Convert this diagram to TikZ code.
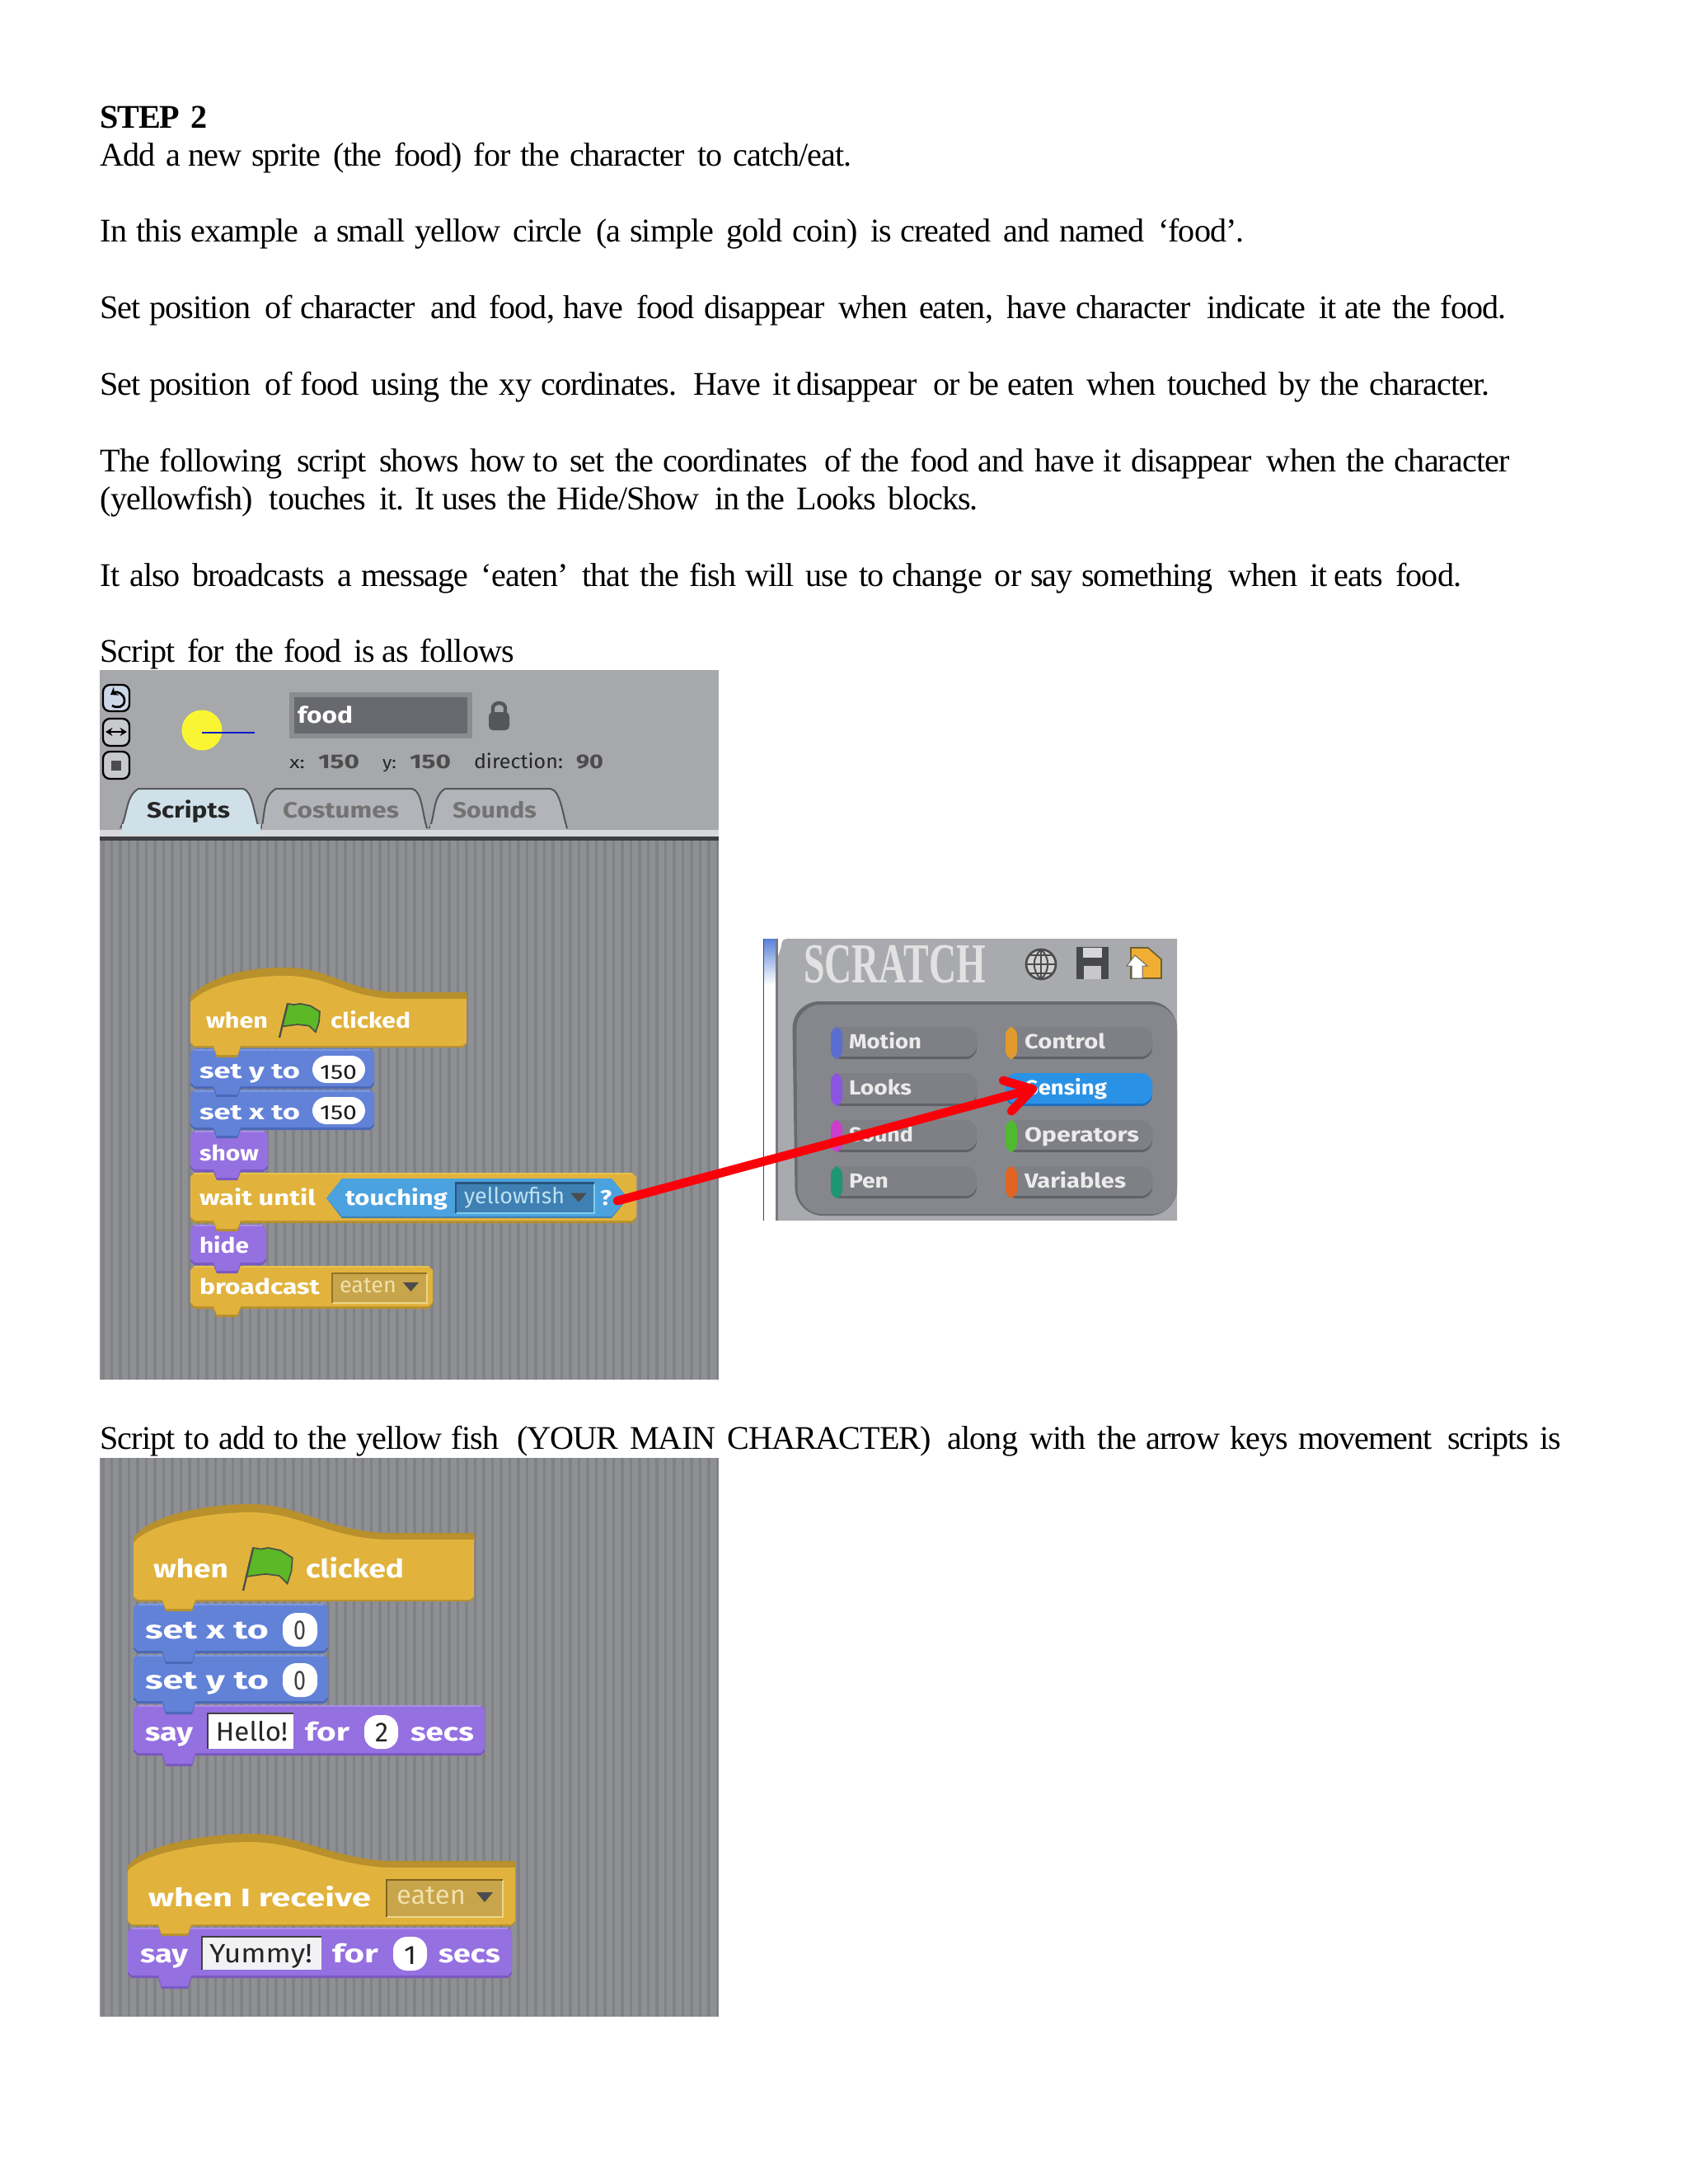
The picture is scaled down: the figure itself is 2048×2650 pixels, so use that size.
\documentclass[tikz,border=0pt]{standalone}
\usepackage{graphicx}
\usepackage{fontspec}
\usetikzlibrary{arrows.meta}
\setmainfont{Liberation Serif}
\newfontfamily\bodyfont{Liberation Serif}[LetterSpace=-2.4]
\newfontfamily\bodybold{Liberation Serif Bold}[LetterSpace=-3]
\newfontfamily\blockbold{Fira Sans Bold}
\newfontfamily\blockreg{Fira Sans}
\newfontfamily\logofont{Liberation Serif Bold}
\definecolor{panelgray}{HTML}{A6A8AB}
\definecolor{stripebase}{HTML}{8F9094}
\definecolor{stripedark}{HTML}{818286}
\definecolor{ctrl}{HTML}{E1B33D}
\definecolor{ctrldark}{HTML}{B8902C}
\definecolor{ctrllight}{HTML}{E9C34A}
\definecolor{motion}{HTML}{6282D8}
\definecolor{motiondark}{HTML}{4A68B8}
\definecolor{motionlight}{HTML}{7A98E4}
\definecolor{looks}{HTML}{9570E0}
\definecolor{looksdark}{HTML}{7A58C2}
\definecolor{lookslight}{HTML}{AB8CEA}
\definecolor{sense}{HTML}{4BA2DE}
\definecolor{sensedark}{HTML}{3D80B0}
\definecolor{menuctrl}{HTML}{C8A44A}
\definecolor{menulight}{HTML}{EAD68C}
\definecolor{btngray}{HTML}{7E8085}
\definecolor{btnedge}{HTML}{5F6166}
\definecolor{rulelight}{HTML}{D8D9DA}
\definecolor{ruledark}{HTML}{3E3F43}
\definecolor{tabline}{HTML}{55565A}
\definecolor{tabgray}{HTML}{B2B4BA}
\definecolor{tabblue}{HTML}{CFE0E9}
\definecolor{btnblue}{HTML}{CDD7E8}
\definecolor{btnlight}{HTML}{C8C9CC}
\definecolor{spritey}{HTML}{FAF532}
\definecolor{spriteb}{HTML}{0A1EC8}
\definecolor{boxedge}{HTML}{8A8C90}
\definecolor{boxin}{HTML}{68696E}
\definecolor{flaggreen}{HTML}{5CB826}
\definecolor{flagedge}{HTML}{4B5046}
\definecolor{menublue}{HTML}{3E80B4}
\definecolor{menuhi}{HTML}{82CDF0}
\definecolor{menulo}{HTML}{28557D}
\definecolor{yfc}{HTML}{BEE1F0}
\definecolor{eatc}{HTML}{F0E1AA}
\definecolor{yumbg}{HTML}{F2F2F5}
\definecolor{palblue}{HTML}{5A82D7}
\definecolor{paledge}{HTML}{324678}
\definecolor{palstrip}{HTML}{787A7E}
\definecolor{palbg}{HTML}{A8AAAD}
\definecolor{innerdark}{HTML}{686A6F}
\definecolor{innerbg}{HTML}{85878C}
\definecolor{logoc}{HTML}{E2E2E2}
\definecolor{globef}{HTML}{D2D2D4}
\definecolor{savef}{HTML}{46484C}
\definecolor{savew}{HTML}{D7D7D9}
\definecolor{savex}{HTML}{C8C8CA}
\definecolor{foldf}{HTML}{F0AF32}
\definecolor{folde}{HTML}{6E5F32}
\definecolor{cma}{HTML}{5A6ED2}
\definecolor{cmb}{HTML}{8C55E1}
\definecolor{cmc}{HTML}{CD3CCD}
\definecolor{cmd}{HTML}{1E9673}
\definecolor{cme}{HTML}{E19B2D}
\definecolor{cmg}{HTML}{50B932}
\definecolor{cmh}{HTML}{E16423}
\definecolor{sensbtn}{HTML}{2A92E6}
\definecolor{sensedge}{HTML}{1E6EBE}
\definecolor{arrowred}{HTML}{FA000A}
\tikzset{
  x=0.29883pt,y=-0.29883pt,
  txt/.style={anchor=base west,inner sep=0pt,outer sep=0pt},
  redarrow/.style={draw=arrowred,line width=3.2pt,line cap=round,
    -{Straight Barb[length=9.5pt,width=11.5pt,line width=3.2pt,round]}},
}
% a word of a body line, at its page x
\newcommand\wrd[2]{\pgfmathsetlengthmacro\wx{(#1-121)*0.29883pt}\rlap{\hspace*{\wx}#2 }\ignorespaces}
% a run of words stretched between two page x
\newcommand\wrun[3]{\pgfmathsetlengthmacro\wx{(#1-121)*0.29883pt}\pgfmathsetlengthmacro\wy{(#2-#1)*0.29883pt}\rlap{\hspace*{\wx}\makebox[\wy][s]{#3}}\ignorespaces}
% a line of body text: name, baseline, words
\newcommand\wline[3]{\node[txt] (#1) at (119.5,#2) {\fontsize{12pt}{14pt}\bodyfont\ignorespaces #3};}
% a text fitted to a width: name, x1, x2, baseline, size, colour, font, text
\newcommand\fitx[8]{\node[txt,text=#6] (#1) at (#2,#4) {\fontsize{#5pt}{#5pt}#7\sbox0{#8}\pgfmathsetmacro\ff{(#3-#2)*0.29883/\wd0}\scalebox{\ff}[1]{\usebox0}};}
% a stack block: x1,y1,x2,y2, notch x, notch w, notch h, colour stem
\newcommand\blk[8]{%
  \def\shp##1{(#1+5,#2) -- (#3-5,#2) -- (#3,#2+5) -- (#3,#4-5-##1) -- (#3-5,#4-##1) -- (#5+#6,#4-##1) -- (#5+#6-4,#4+#7-##1) -- (#5+4,#4+#7-##1) -- (#5,#4-##1) -- (#1+5,#4-##1) -- (#1,#4-5-##1) -- (#1,#2+5) -- cycle}%
  \fill[#8dark] \shp{0};
  \fill[#8] \shp{3};
  \draw[#8light,line width=0.6pt] (#1+5,#2+1) -- (#3-5,#2+1);
}
% a hat block: x1,x2,ytop,yright,xpeak,xend,ybottom,notch x,notch w
\newcommand\hatb[9]{%
  \fill[ctrldark] (#1,#4+6) .. controls (#1+20,#3+12) and (#5-50,#3) .. (#5,#3) .. controls (#5+60,#3) and (#6-70,#4) .. (#6,#4) -- (#2,#4) -- (#2+1,#4+7) -- (#2,#4+10) -- (#1,#4+12) -- cycle;
  \fill[ctrldark] (#1,#4+10) -- (#2,#4+10) -- (#2,#7-4) -- (#2-5,#7) -- (#8+#9,#7) -- (#8+#9-4,#7+12) -- (#8+4,#7+12) -- (#8,#7) -- (#1+5,#7) -- (#1,#7-5) -- cycle;
  \fill[ctrl] (#1,#4+12) .. controls (#1+20,#3+22) and (#5-50,#3+10) .. (#5,#3+10) .. controls (#5+60,#3+10) and (#6-70,#4+8) .. (#6,#4+8) -- (#2,#4+8) -- (#2,#7-6) -- (#2-5,#7-2) -- (#8+#9,#7-2) -- (#8+#9-4,#7+9) -- (#8+4,#7+9) -- (#8,#7-2) -- (#1+5,#7-2) -- (#1,#7-6) -- cycle;
}
% flag icon: x,y,w,h
\newcommand\flagi[4]{\begin{scope}[shift={(#1,#2)},xscale=#3,yscale=#4]
  \fill[fill=flaggreen,draw=flagedge,line width=0.5pt] (0.2,0.02) -- (0.35,0.05) -- (0.5,0.02) -- (0.75,0.08) -- (0.98,0.25) -- (0.96,0.55) -- (0.88,0.84) -- (0.72,0.66) -- (0.45,0.62) -- (0.3,0.64) -- (0.06,0.68) -- cycle;
  \draw[flagedge,line width=0.7pt] (0.2,0.02) -- (0,1);
\end{scope}}
% an oval number input: x1,x2,y1,y2
\newcommand\ovalin[4]{\fill[white,rounded corners=5pt] (#1,#3) rectangle (#2,#4);}
% a category button: name,x1,x2,y1,y2,stripe colour
\newcommand\catb[6]{%
  \fill[btnedge,rounded corners=4pt] (#2,#4+2) rectangle (#3,#5);
  \fill[btngray,rounded corners=4pt] (#2,#4) rectangle (#3,#5-3);
  \fill[#6,rounded corners=3pt] (#2,#4) -- (#2+14,#4) -- (#2+14,#5) -- (#2,#5) -- cycle;
}
\begin{document}
\begin{tikzpicture}
\useasboundingbox (0,0) rectangle (2048,2650);
\fill[white] (0,0) rectangle (2048,2650);
% body text
\node[txt] (step) at (119.5,155) {\fontsize{12pt}{14pt}\bodybold\wrd{121.4}{STEP}\wrd{231.7}{2}};
\wline{l1}{201}{\wrd{121.4}{Add} \wrd{201}{a} \wrd{228.6}{new} \wrd{305}{sprite} \wrd{404}{(the} \wrd{478}{food)} \wrd{574.6}{for} \wrd{631.5}{the} \wrd{691}{character} \wrd{846}{to} \wrd{889}{catch/eat.}}
\wline{l2}{293}{\wrd{121.4}{In} \wrd{165.5}{this} \wrd{231.7}{example} \wrd{380}{a} \wrd{408}{small} \wrd{503}{yellow} \wrd{622}{circle} \wrd{723}{(a} \wrd{764}{simple} \wrd{881}{gold} \wrd{961.6}{coin)} \wrd{1055.7}{is} \wrd{1091.8}{created} \wrd{1217}{and} \wrd{1285}{named} \wrd{1404.7}{‘food’.}}
\wline{l3}{386}{\wrd{121.4}{Set} \wrd{181.4}{position} \wrd{321.7}{of} \wrd{364.5}{character} \wrd{522.5}{and} \wrd{593}{food,} \wrd{683}{have} \wrd{771.8}{food} \wrd{854.4}{disappear} \wrd{1017}{when} \wrd{1114.8}{eaten,} \wrd{1221}{have} \wrd{1305.4}{character} \wrd{1463.8}{indicate} \wrd{1600}{it} \wrd{1631.5}{ate} \wrd{1689}{the} \wrd{1747.4}{food.}}
\wline{l4}{479}{\wrd{121.4}{Set} \wrd{181.4}{position} \wrd{321.7}{of} \wrd{364.5}{food} \wrd{450.3}{using} \wrd{545.8}{the} \wrd{605.8}{xy} \wrd{656}{cordinates.} \wrd{841}{Have} \wrd{937.7}{it} \wrd{966.5}{disappear} \wrd{1132}{or} \wrd{1175}{be} \wrd{1222.7}{eaten} \wrd{1318.6}{when} \wrd{1416}{touched} \wrd{1551}{by} \wrd{1601.6}{the} \wrd{1661}{character.}}
\wline{l5}{572}{\wrd{121.4}{The} \wrd{193.7}{following} \wrd{360}{script} \wrd{460}{shows} \wrd{570.3}{how} \wrd{646.8}{to} \wrd{691}{set} \wrd{746}{the} \wrd{804}{coordinates} \wrd{1000.2}{of} \wrd{1044}{the} \wrd{1104.5}{food} \wrd{1186.6}{and} \wrd{1255.5}{have} \wrd{1338.7}{it} \wrd{1372}{disappear} \wrd{1536.7}{when} \wrd{1633}{the} \wrd{1691.7}{character}}
\wline{l6}{618}{\wrd{121.4}{(yellowfish)} \wrd{326.6}{touches} \wrd{460}{it.} \wrd{503}{It} \wrd{536.6}{uses} \wrd{615.6}{the} \wrd{675.6}{Hide/Show} \wrd{867}{in} \wrd{905}{the} \wrd{966.5}{Looks} \wrd{1077.5}{blocks.}}
\wline{l7}{711}{\wrd{121.4}{It} \wrd{157}{also} \wrd{233}{broadcasts} \wrd{409}{a} \wrd{438}{message} \wrd{583.8}{‘eaten’} \wrd{706}{that} \wrd{776.7}{the} \wrd{836}{fish} \wrd{904}{will} \wrd{977}{use} \wrd{1042}{to} \wrd{1082.6}{change} \wrd{1206.6}{or} \wrd{1250}{say} \wrd{1312}{something} \wrd{1490}{when} \wrd{1589}{it} \wrd{1618}{eats} \wrd{1693}{food.}}
\wline{l8}{803}{\wrd{121.4}{Script} \wrd{227}{for} \wrd{285}{the} \wrd{344}{food} \wrd{429}{is} \wrd{463}{as} \wrd{509}{follows}}
\wline{l9}{1758}{\wrun{121.4}{605}{Script to add to the yellow fish} \wrd{627}{(YOUR} \wrd{764}{MAIN} \wrd{882}{CHARACTER)} \wrd{1149.6}{along} \wrd{1249}{with} \wrd{1331.6}{the} \wrd{1390}{arrow} \wrd{1492}{keys} \wrd{1575}{movement} \wrd{1756}{scripts} \wrd{1868.5}{is}}

% ---------- first panel
\fill[panelgray] (120.5,813) rectangle (872,1007);
\fill[rulelight] (120.5,1007) rectangle (872,1015);
\fill[ruledark] (120.5,1015) rectangle (872,1020);
\fill[stripebase] (120.5,1020) rectangle (872,1674);
\foreach \i in {0,...,71} {\fill[stripedark] ({123+\i*10.5},1020) rectangle ({126.5+\i*10.5},1674);}
% mini buttons
\draw[black,line width=0.7pt,fill=btnblue,rounded corners=2.5pt] (125,831) rectangle (157,863);
\draw[black,line width=0.7pt,fill=btnlight,rounded corners=2.5pt] (125,872) rectangle (157,905);
\draw[black,line width=0.7pt,fill=btnlight,rounded corners=2.5pt] (125,912) rectangle (157,945);
\draw[black,line width=0.8pt,{Stealth[length=2.5pt,width=3.5pt]}-] (134,843) .. controls (142,838) and (151,842) .. (151,850) .. controls (151,858) and (142,860) .. (136,856);
\draw[black,line width=0.8pt,{Stealth[length=2.5pt,width=3pt]}-{Stealth[length=2.5pt,width=3pt]}] (128,888) -- (154,888);
\fill[black!70] (135,923) rectangle (147,935);
% sprite
\fill[spritey] (245,886) circle[radius=24.5];
\draw[spriteb,line width=0.55pt] (245,889) -- (309,889);
% name box
\fill[boxedge] (351,840) rectangle (573,896);
\fill[boxin] (357,846) rectangle (567,890);
\fitx{foodname}{361}{428}{877}{8.2}{white}{\blockbold}{food}
% lock
\draw[tabline,line width=1.3pt] (598,866) -- (598,859) arc[start angle=180,end angle=360,x radius=7.5,y radius=6] -- (613,866);
\fill[tabline,rounded corners=1.5pt] (593,864) rectangle (618,886);
% coordinates
\fitx{xl}{351}{370}{932}{6.2}{black!85}{\blockreg}{x:}
\fitx{xv}{386}{436}{932}{7.2}{black!70}{\blockbold}{150}
\fitx{yl}{464}{481}{932}{6.2}{black!85}{\blockreg}{y:}
\fitx{yv}{497}{547}{932}{7.2}{black!70}{\blockbold}{150}
\fitx{dl}{575}{683}{932}{7.2}{black!85}{\blockreg}{direction:}
\fitx{dv}{699}{732}{932}{7.2}{black!70}{\blockbold}{90}
% tabs
\draw[tabline,line width=0.6pt,fill=tabgray] (317,1005) .. controls (322,990) and (318,966) .. (335,957) -- (500,957) .. controls (512,960) and (512,985) .. (518,1005);
\fill[tabgray] (318,1000) rectangle (516,1007);
\draw[tabline,line width=0.6pt,fill=tabgray] (521,1005) .. controls (528,990) and (525,966) .. (540,957) -- (668,957) .. controls (680,960) and (682,985) .. (688,1005);
\fill[tabgray] (522,1000) rectangle (686,1007);
\draw[tabline,line width=0.6pt,fill=tabblue] (146,1005) .. controls (155,990) and (152,966) .. (168,957) -- (295,957) .. controls (306,960) and (308,985) .. (314,1005);
\fill[tabblue] (148,1000) rectangle (316,1012);
\fitx{tabs}{178}{279}{992}{8}{black!85}{\blockbold}{Scripts}
\fitx{tabc}{343}{484}{992}{8}{black!55}{\blockbold}{Costumes}
\fitx{tabd}{549}{651}{992}{8}{black!55}{\blockbold}{Sounds}

% script 1 (bottom up so each bump lies on the next block)
\blk{231}{1536}{525}{1588}{259}{33}{10}{ctrl}
\fill[menuctrl] (403,1545) rectangle (518,1581);
\draw[menulight,line width=0.6pt] (403,1581) -- (518,1581) -- (518,1545);
\draw[ctrldark!80!black,line width=0.6pt] (403,1581) -- (403,1545) -- (518,1545);
\blk{231}{1486}{323}{1535}{259}{33}{10}{looks}
\blk{231}{1423}{772}{1484}{259}{33}{10}{ctrl}
\fill[sensedark] (396,1454) -- (415,1430) -- (742,1430) -- (762,1454) -- (742,1478) -- (415,1478) -- cycle;
\fill[sense] (396,1454) -- (415,1430) -- (742,1430) -- (762,1454) -- (742,1476) -- (415,1476) -- cycle;
\fill[menublue] (553,1435.5) rectangle (721,1472);
\draw[menuhi,line width=0.6pt] (553,1472) -- (721,1472) -- (721,1435.5);
\draw[menulo,line width=0.7pt] (553,1472) -- (553,1435.5) -- (721,1435.5);
\blk{231}{1372}{325}{1422}{259}{33}{10}{looks}
\blk{231}{1322.5}{454}{1371}{259}{33}{10}{motion}
\ovalin{379}{443}{1331}{1364}
\blk{231}{1272.5}{454}{1321}{259}{33}{10}{motion}
\ovalin{379}{443}{1281}{1314}
\hatb{231}{566}{1174}{1204}{345}{488}{1271}{259}{33}
\flagi{339}{1217}{50}{42}
\fitx{w1}{250}{325}{1247}{7.7}{white}{\blockbold}{when}
\fitx{c1}{401}{498}{1247}{7.7}{white}{\blockbold}{clicked}
\fitx{sy1}{242}{364}{1308}{7.7}{white}{\blockbold}{set y to}
\fitx{sy2}{388}{433}{1309}{7.4}{black!90}{\blockreg}{150}
\fitx{sx1}{242}{364}{1358}{7.7}{white}{\blockbold}{set x to}
\fitx{sx2}{388}{433}{1358}{7.4}{black!90}{\blockreg}{150}
\fitx{show}{242}{314}{1408}{7.7}{white}{\blockbold}{show}
\fitx{wu}{242}{383}{1462}{7.7}{white}{\blockbold}{wait until}
\fitx{tch}{419}{543}{1462}{7.7}{white}{\blockbold}{touching}
\fitx{yf}{563}{685}{1460}{8}{yfc}{\blockreg}{yellowfish}
\fill[black!70] (692,1447.5) -- (712,1447.5) -- (702,1458.5) -- cycle;
\fitx{qm}{728}{742}{1462}{7.7}{white}{\blockbold}{?}
\fitx{hide}{242}{302}{1520}{7.7}{white}{\blockbold}{hide}
\fitx{bc}{242}{388}{1570}{7.7}{white}{\blockbold}{broadcast}
\fitx{eat1}{412}{481}{1568}{8}{eatc}{\blockreg}{eaten}
\fill[black!70] (489,1556) -- (508,1556) -- (498.5,1567) -- cycle;

% ---------- second panel
\fill[stripebase] (120.5,1769) rectangle (872,2447);
\foreach \i in {0,...,71} {\fill[stripedark] ({123+\i*10.5},1769) rectangle ({126.5+\i*10.5},2447);}
\blk{162}{2069}{588}{2130}{197}{40}{13}{looks}
\fill[white] (252,2079) rectangle (356,2122);
\draw[black!75,line width=0.6pt] (252,2122) -- (252,2079) -- (356,2079);
\ovalin{442}{483}{2081}{2122}
\blk{162}{2008}{398}{2067}{197}{40}{13}{motion}
\ovalin{343}{385}{2018}{2059}
\blk{162}{1946}{398}{2006}{197}{40}{13}{motion}
\ovalin{343}{385}{1957}{1998}
\hatb{162}{575}{1825}{1860}{304}{473}{1943}{197}{40}
\flagi{295}{1877}{61}{53}
\fitx{w2}{186}{277}{1914}{9.2}{white}{\blockbold}{when}
\fitx{c2}{371}{490}{1914}{9.2}{white}{\blockbold}{clicked}
\fitx{sx3}{176}{326}{1988}{9.2}{white}{\blockbold}{set x to}
\fitx{sx4}{356}{371}{1989}{10}{black!75}{\blockreg}{0}
\fitx{sy3}{176}{326}{2049}{9.2}{white}{\blockbold}{set y to}
\fitx{sy4}{356}{371}{2050}{10}{black!75}{\blockreg}{0}
\fitx{say1}{176}{234}{2112}{9.2}{white}{\blockbold}{say}
\fitx{hello}{262}{349}{2112}{9.6}{black!85}{\blockreg}{Hello!}
\fitx{for1}{370}{424}{2112}{9.2}{white}{\blockbold}{for}
\fitx{two}{455}{471}{2113}{10}{black!85}{\blockreg}{2}
\fitx{secs1}{498}{575}{2112}{9.2}{white}{\blockbold}{secs}

\blk{155}{2339}{621}{2400}{192}{40}{13}{looks}
\fill[yumbg] (245,2350) rectangle (390,2390);
\draw[black!75,line width=0.6pt] (245,2390) -- (245,2350) -- (390,2350);
\ovalin{477}{518}{2350}{2391}
\hatb{155}{625}{2225}{2258}{304}{478}{2337}{192}{40}
\fill[menuctrl] (469,2281) rectangle (610,2326);
\draw[menulight,line width=0.6pt] (469,2326) -- (610,2326) -- (610,2281);
\draw[ctrldark!70!black,line width=0.7pt] (469,2326) -- (469,2281) -- (610,2281);
\fitx{wr}{180}{450}{2313}{9.2}{white}{\blockbold}{when I receive}
\fitx{eat2}{481}{565}{2310}{9.6}{eatc}{\blockreg}{eaten}
\fill[black!70] (578,2296) -- (598,2296) -- (588,2308) -- cycle;
\fitx{say2}{170}{228}{2381}{9.2}{white}{\blockbold}{say}
\fitx{yum}{254}{379}{2381}{9.6}{black!85}{\blockreg}{Yummy!}
\fitx{for2}{403}{459}{2381}{9.2}{white}{\blockbold}{for}
\fitx{one}{490}{505}{2383}{9.6}{black!85}{\blockreg}{1}
\fitx{secs2}{532}{607}{2381}{9.2}{white}{\blockbold}{secs}

% ---------- scratch palette
\shade[top color=palblue,bottom color=white] (927,1139) rectangle (942,1195);
\draw[paledge,line width=0.5pt] (926.5,1139) -- (926.5,1481);
\fill[palstrip] (941,1139) rectangle (944,1481);
\fill[palbg] (948,1148) .. controls (948,1142) and (950,1139) .. (956,1139) -- (1428,1139) -- (1428,1481) -- (944,1481) -- (944,1160) -- cycle;
\fill[innerdark,rounded corners=10pt] (961,1215) -- (1428,1215) -- (1428,1475) -- (965,1475) -- cycle;
\fill[innerbg,rounded corners=9pt] (966,1219) -- (1428,1219) -- (1428,1473) -- (968,1473) -- cycle;
\node[txt,text=logoc,font=\fontsize{20.5pt}{20.5pt}\logofont] (logo) at (975,1192) {\sbox0{SCRATCH}\pgfmathsetmacro\ff{221*0.29883/\wd0}\scalebox{\ff}[1]{\usebox0}};
% globe
\draw[black!70,line width=0.8pt,fill=globef] (1263,1170) circle[radius=18];
\draw[black!70,line width=0.7pt] (1245,1170) -- (1281,1170) (1263,1152) -- (1263,1188) (1249,1159) -- (1277,1159) (1249,1181) -- (1277,1181);
\draw[black!70,line width=0.6pt] (1263,1152) .. controls (1252,1162) and (1252,1178) .. (1263,1188) .. controls (1274,1178) and (1274,1162) .. (1263,1152);
% save
\fill[savef] (1306,1149) rectangle (1345,1188);
\fill[savew] (1314,1150) rectangle (1337,1162);
\fill[savex] (1315,1172) rectangle (1336,1188);
% folder
\fill[fill=foldf,draw=folde,line width=0.5pt] (1372,1150) -- (1393,1150) -- (1409,1164) -- (1409,1187) -- (1372,1187) -- cycle;
\fill[fill=white,draw=black!60,line width=0.3pt] (1377,1159) -- (1367,1172) -- (1373,1172) -- (1373,1187) -- (1386,1187) -- (1386,1172) -- (1392,1172) -- cycle;
% category buttons
\catb{m1}{1008}{1185}{1246}{1285}{cma}
\catb{m2}{1008}{1185}{1302}{1342}{cmb}
\catb{m3}{1008}{1185}{1359}{1398}{cmc}
\catb{m4}{1008}{1185}{1415}{1454}{cmd}
\catb{m5}{1220}{1398}{1246}{1285}{cme}
\fill[sensedge,rounded corners=4pt] (1220,1304) rectangle (1398,1342);
\fill[sensbtn,rounded corners=4pt] (1220,1302) rectangle (1398,1339);
\catb{m7}{1220}{1398}{1359}{1398}{cmg}
\catb{m8}{1220}{1398}{1415}{1454}{cmh}
\fitx{tm}{1030}{1118}{1272}{7.4}{white!92!black}{\blockbold}{Motion}
\fitx{tl}{1030}{1106}{1328}{7.4}{white!92!black}{\blockbold}{Looks}
\fitx{ts}{1030}{1108}{1385}{7.4}{white!92!black}{\blockbold}{Sound}
\fitx{tp}{1030}{1078}{1441}{7.4}{white!92!black}{\blockbold}{Pen}
\fitx{tc}{1243}{1341}{1272}{7.4}{white!92!black}{\blockbold}{Control}
\fitx{tse}{1244}{1343}{1328}{7.4}{white}{\blockbold}{Sensing}
\fitx{to}{1243}{1382}{1385}{7.4}{white!92!black}{\blockbold}{Operators}
\fitx{tv}{1243}{1366}{1441}{7.4}{white!92!black}{\blockbold}{Variables}
% connector
\coordinate (qstart) at (749,1457);
\coordinate (senstip) at (1258,1320);
\draw[redarrow] (qstart) -- (senstip);
\end{tikzpicture}
\end{document}
